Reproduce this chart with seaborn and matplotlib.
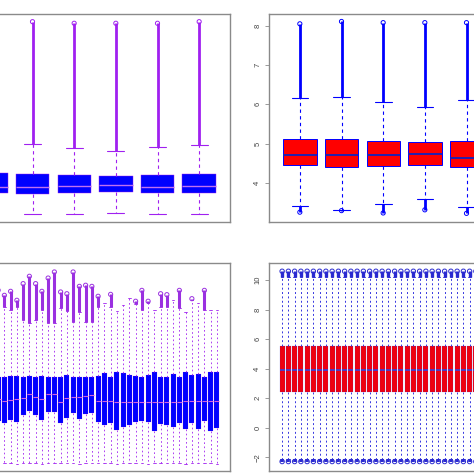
import numpy as np
import pandas as pd
import matplotlib
matplotlib.use("Agg")
import matplotlib.pyplot as plt
import seaborn as sns

# ---- top-left panel (6 arrays, raw intensities) ----
tl_low = [2.00, 1.98, 1.98, 2.04, 1.98, 2.02]
tl_q1 = [3.31, 3.23, 3.33, 3.38, 3.29, 3.29]
tl_med = [3.69, 3.71, 3.77, 3.81, 3.67, 3.75]
tl_q3 = [4.56, 4.50, 4.44, 4.39, 4.44, 4.50]
tl_high = [6.30, 6.36, 6.14, 5.94, 6.21, 6.31]
tl_out_max = [14.00, 14.02, 13.92, 13.92, 13.92, 14.02]

# ---- top-right panel (6 arrays, normalized) ----
tr_low = [3.41, 3.31, 3.46, 3.58, 3.38, 3.40]
tr_q1 = [4.45, 4.39, 4.43, 4.46, 4.40, 4.41]
tr_med = [4.70, 4.71, 4.70, 4.73, 4.64, 4.66]
tr_q3 = [5.11, 5.11, 5.06, 5.04, 5.06, 5.08]
tr_high = [6.15, 6.18, 6.05, 5.94, 6.10, 6.12]
tr_out_max = [8.05, 8.11, 8.08, 8.08, 8.08, 8.07]
tr_out_min = [3.25, 3.29, 3.23, 3.31, 3.22, 3.24]
tr_ticks = [4, 5, 6, 7, 8]

# ---- bottom-left panel (40 arrays, raw) ----
bl_low = [1.97, 1.98, 1.96, 1.97, 1.98, 1.97, 1.98, 1.96, 1.97, 1.98,
          1.97, 1.96, 1.98, 1.97, 1.97, 1.98, 1.97, 1.96, 1.97, 1.98,
          1.97, 1.97, 1.98, 1.96, 1.97, 1.97, 1.98, 1.97, 1.96, 1.97,
          1.98, 1.97, 1.97, 1.98, 1.96, 1.97, 1.97, 1.98, 1.97, 1.96]
bl_q1 = [4.60, 4.75, 4.55, 4.90, 4.62, 4.48, 4.69, 4.56, 4.98, 5.25,
         5.00, 4.69, 5.21, 5.17, 4.48, 4.79, 5.11, 4.75, 5.04, 5.11,
         4.54, 4.38, 4.48, 4.06, 4.27, 4.36, 4.58, 4.64, 4.54, 4.02,
         4.44, 4.38, 4.27, 4.48, 4.11, 4.48, 4.11, 4.64, 4.00, 4.17]
bl_med = [5.95, 6.05, 5.90, 6.10, 5.97, 5.89, 5.94, 6.00, 6.08, 6.29,
          6.11, 5.98, 6.31, 6.31, 5.83, 6.08, 6.13, 6.14, 6.21, 6.23,
          5.88, 5.88, 5.88, 5.83, 5.83, 5.83, 5.83, 5.83, 5.83, 5.83,
          5.83, 5.83, 5.83, 5.83, 5.89, 5.89, 5.89, 5.89, 5.89, 5.89]
bl_q3 = [7.42, 7.45, 7.40, 7.44, 7.38, 7.36, 7.46, 7.46, 7.36, 7.46,
         7.39, 7.46, 7.39, 7.39, 7.39, 7.50, 7.39, 7.39, 7.39, 7.39,
         7.44, 7.61, 7.39, 7.71, 7.61, 7.52, 7.46, 7.39, 7.50, 7.71,
         7.39, 7.39, 7.54, 7.39, 7.71, 7.50, 7.56, 7.39, 7.69, 7.69]
bl_high = [11.60, 11.20, 11.70, 10.95, 11.50, 11.77, 11.56, 11.73, 10.94, 10.73,
           10.94, 11.56, 10.73, 10.73, 11.71, 11.50, 10.83, 11.46, 10.83, 10.83,
           11.73, 12.02, 11.77, 11.50, 11.88, 12.29, 11.92, 11.56, 11.98, 11.56,
           11.77, 11.77, 12.19, 11.67, 11.46, 12.19, 11.98, 11.56, 11.56, 11.56]
bl_out_max = [12.60, 13.10, 12.40, 13.30, 12.80, 12.48, 12.73, 12.17, 13.21, 13.67,
              13.21, 12.73, 13.56, 13.94, 12.69, 12.58, 13.94, 13.04, 13.11, 13.04,
              12.42, 12.02, 12.54, 11.50, 11.88, 12.29, 12.11, 12.79, 12.11, 11.56,
              12.58, 12.52, 12.19, 12.79, 11.46, 12.27, 11.98, 12.79, 11.56, 11.56]

# ---- bottom-right panel (40 arrays, quantile normalized -> identical) ----
br_low = [-2.15] * 40
br_q1 = [2.42] * 40
br_med = [3.93] * 40
br_q3 = [5.52] * 40
br_high = [10.25] * 40
br_out_max = [10.61] * 40
br_out_min = [-2.30] * 40
br_ticks = [-2, 0, 2, 4, 6, 8, 10]

PURPLE = "#A020F0"
FRAME = "#8a8a8a"


def summary_frame(low, q1, med, q3, high):
    # 7 points per array reproduce the five-number summary exactly
    rows = []
    for i, vals in enumerate(zip(low, q1, q1, med, q3, q3, high)):
        rows += [(i, v) for v in vals]
    return pd.DataFrame(rows, columns=["array", "value"])


def draw_panel(ax, df, fill, edge, med_color, med_lw, lw, box_lw, dash):
    sns.boxplot(data=df, x="array", y="value", ax=ax, whis=(0, 100), width=0.8,
                color=fill, linecolor=edge, saturation=1, linewidth=lw,
                showfliers=False,
                boxprops=dict(linewidth=box_lw),
                whiskerprops=dict(linestyle=(0, dash)),
                medianprops=dict(color=med_color, linewidth=med_lw))


def draw_outliers(ax, start, stop, color, width, size):
    idx = np.arange(len(start))
    start = np.asarray(start)
    stop = np.asarray(stop)
    keep = start != stop
    ax.vlines(idx[keep], start[keep], stop[keep], colors=color,
              linewidth=width, zorder=4)
    ax.scatter(idx[keep], stop[keep], s=size, facecolors="none",
               edgecolors=color, linewidths=0.7, zorder=5)


def style_axis(ax, n, ylim, ticks):
    ax.set_xlim(-0.5 - 0.04 * n, n - 0.5 + 0.04 * n)
    ax.set_ylim(ylim)
    ax.set_xticks([])
    ax.set_xlabel("")
    ax.set_ylabel("")
    ax.set_yticks(ticks)
    ax.tick_params(axis="y", left=True, length=3, width=0.6, color=FRAME,
                   labelsize=5.5, labelcolor="#444444", labelrotation=90, pad=2.5)
    for lab in ax.get_yticklabels():
        lab.set_va("center")
    for s in ax.spines.values():
        s.set_visible(True)
        s.set_color(FRAME)
        s.set_linewidth(1.0)


sns.set_style("white")
plt.rcParams["font.family"] = ["Liberation Sans", "DejaVu Sans"]

W = 474
fig = plt.figure(figsize=(4.74, 4.74), dpi=100)
fig.patch.set_facecolor("white")

# axes rectangles in pixels (left, top, right, bottom) -> figure fractions
def rect(l, t, r, b):
    return [l / W, (W - b) / W, (r - l) / W, (b - t) / W]

ax_tl = fig.add_axes(rect(-40, 14, 230, 222))
ax_tr = fig.add_axes(rect(269, 14, 539, 222))
ax_bl = fig.add_axes(rect(-40, 263, 230, 471))
ax_br = fig.add_axes(rect(269, 263, 539, 471))

# top-left
draw_panel(ax_tl, summary_frame(tl_low, tl_q1, tl_med, tl_q3, tl_high),
           "blue", PURPLE, "#C070F0", 1.0, 0.8, 0.3, (3, 3))
draw_outliers(ax_tl, tl_high, tl_out_max, PURPLE, 2.0, 9)
style_axis(ax_tl, len(tl_q1), (1.5, 14.5), [])

# top-right
draw_panel(ax_tr, summary_frame(tr_low, tr_q1, tr_med, tr_q3, tr_high),
           "red", "blue", "#2020b0", 1.4, 0.8, 0.7, (3, 3))
draw_outliers(ax_tr, tr_high, tr_out_max, "blue", 2.0, 9)
draw_outliers(ax_tr, tr_low, tr_out_min, "blue", 2.0, 9)
style_axis(ax_tr, len(tr_q1), (3.0, 8.3), tr_ticks)

# bottom-left
draw_panel(ax_bl, summary_frame(bl_low, bl_q1, bl_med, bl_q3, bl_high),
           "blue", PURPLE, "#D060E0", 0.8, 0.6, 0.1, (2, 3))
draw_outliers(ax_bl, bl_high, bl_out_max, "#9A30E0", 2.2, 9)
style_axis(ax_bl, len(bl_q1), (1.5, 14.5), [])

# bottom-right
draw_panel(ax_br, summary_frame(br_low, br_q1, br_med, br_q3, br_high),
           "#EE0010", "#3535E0", "#4040D0", 1.3, 0.7, 0.1, (2, 2.5))
draw_outliers(ax_br, br_high, br_out_max, "#2a2ad0", 2.4, 10)
draw_outliers(ax_br, br_low, br_out_min, "#2a2ad0", 2.6, 10)
style_axis(ax_br, len(br_q1), (-2.94, 11.17), br_ticks)

fig.savefig("out.png", dpi=100, facecolor="white")
